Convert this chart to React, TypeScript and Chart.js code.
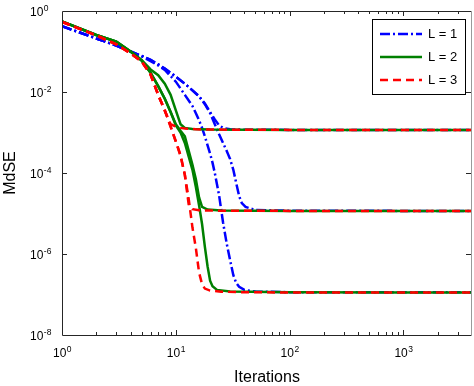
import React, { useEffect, useRef } from "react";
import { Chart, registerables } from "chart.js";

Chart.register(...registerables);

// ---- data (iterations, MdSE) ----
const itBlueTop = [1, 2, 3, 4, 5, 6, 7, 8, 10, 12, 14, 16, 18, 20, 22, 24, 26, 30, 40, 100, 1000, 4000];
const mdseBlueTop = [0.42, 0.21, 0.14, 0.1, 0.078, 0.062, 0.048, 0.038, 0.024, 0.016, 0.011, 0.0078, 0.0052, 0.0032, 0.0021, 0.0015, 0.0013, 0.0012, 0.00117, 0.00116, 0.00115, 0.00115];

const itBlueMid = [1, 2, 3, 4, 5, 6, 7, 8, 10, 12, 14, 16, 18, 20, 22, 24, 26, 28, 30, 32, 34, 36, 38, 41, 50, 100, 1000, 4000];
const mdseBlueMid = [0.42, 0.21, 0.14, 0.1, 0.078, 0.062, 0.048, 0.038, 0.024, 0.016, 0.011, 0.0078, 0.005, 0.003, 0.0016, 0.0009, 0.00055, 0.00035, 0.00022, 0.00012, 0.000055, 0.000027, 0.000018, 0.0000145, 0.0000122, 0.0000117, 0.0000116, 0.0000116];

const itBlueBot = [1, 2, 3, 4, 5, 6, 7, 8, 10, 12, 14, 15, 16, 17, 18, 20, 21, 22, 24, 26, 28, 30, 32, 34, 36, 40, 50, 100, 1000, 4000];
const mdseBlueBot = [0.42, 0.21, 0.14, 0.1, 0.076, 0.058, 0.045, 0.035, 0.018, 0.0085, 0.0045, 0.003, 0.002, 0.0013, 0.0008, 0.0003, 0.00018, 0.0001, 0.000028, 0.000006, 0.0000018, 7e-7, 3e-7, 1.9e-7, 1.55e-7, 1.3e-7, 1.18e-7, 1.14e-7, 1.13e-7, 1.13e-7];

const itGreenTop = [1, 2, 3, 4, 5, 6, 7, 8, 9, 10, 11, 12, 14, 20, 100, 1000, 4000];
const mdseGreenTop = [0.55, 0.255, 0.175, 0.1, 0.062, 0.036, 0.026, 0.016, 0.0085, 0.0035, 0.0016, 0.0013, 0.00122, 0.00118, 0.00116, 0.00115, 0.00115];

const itGreenMid = [1, 2, 3, 4, 5, 6, 7, 8, 9, 10, 11, 12, 13, 14, 15, 16, 17, 19, 25, 100, 1000, 4000];
const mdseGreenMid = [0.55, 0.255, 0.175, 0.1, 0.06, 0.03, 0.014, 0.0068, 0.0032, 0.0016, 0.0011, 0.0008, 0.00035, 0.00016, 0.00007, 0.000025, 0.0000145, 0.0000125, 0.0000119, 0.0000116, 0.0000115, 0.0000115];

const itGreenBot = [1, 2, 3, 4, 5, 6, 7, 8, 9, 10, 11, 12, 13, 14, 15, 16, 17, 18, 19, 20, 21, 23, 30, 100, 1000, 4000];
const mdseGreenBot = [0.55, 0.255, 0.175, 0.1, 0.06, 0.03, 0.014, 0.0068, 0.0032, 0.0015, 0.001, 0.00055, 0.00025, 0.00012, 0.000045, 0.000016, 0.0000055, 0.0000015, 5e-7, 2.2e-7, 1.6e-7, 1.3e-7, 1.18e-7, 1.13e-7, 1.12e-7, 1.12e-7];

const itRedTop = [1, 2, 3, 4, 5, 6, 7, 8, 9, 10, 11, 12, 15, 20, 100, 1000, 4000];
const mdseRedTop = [0.54, 0.25, 0.15, 0.09, 0.057, 0.027, 0.0085, 0.0035, 0.0016, 0.0014, 0.0013, 0.00125, 0.0012, 0.00118, 0.00116, 0.00115, 0.00115];

const itRedMid = [1, 2, 3, 4, 5, 6, 7, 8, 9, 10, 11, 12, 13, 14, 16, 25, 100, 1000, 4000];
const mdseRedMid = [0.54, 0.25, 0.15, 0.09, 0.057, 0.027, 0.0085, 0.0035, 0.0014, 0.0006, 0.00027, 0.00009, 0.000016, 0.0000128, 0.000012, 0.0000117, 0.0000116, 0.0000115, 0.0000115];

const itRedBot = [1, 2, 3, 4, 5, 6, 7, 8, 9, 10, 11, 12, 13, 14, 15, 16, 17, 18, 20, 25, 40, 100, 1000, 4000];
const mdseRedBot = [0.54, 0.25, 0.15, 0.09, 0.057, 0.027, 0.0085, 0.0035, 0.0014, 0.0006, 0.00027, 0.00009, 0.000022, 0.0000045, 0.0000014, 3.5e-7, 1.8e-7, 1.4e-7, 1.25e-7, 1.17e-7, 1.14e-7, 1.12e-7, 1.12e-7, 1.12e-7];

const legendLabels = ["L = 1", "L = 2", "L = 3"];
const xTickExps = [0, 1, 2, 3];
const yTickExps = [0, -2, -4, -6, -8];
const xTitle = "Iterations";
const yTitle = "MdSE";

const FONT = "'Liberation Sans', Arial, Helvetica, sans-serif";

const BLUE = "#0000ff";
const GREEN = "#008000";
const RED = "#ff0000";
const DASHDOT = [10, 3, 2, 3];
const DASHED = [8, 5];

function series(xs: number[], ys: number[], color: string, dash: number[], order: number) {
  return {
    data: xs.map((x, i) => ({ x, y: ys[i] })),
    borderColor: color,
    backgroundColor: color,
    borderWidth: 2.5,
    borderDash: dash,
    pointRadius: 0,
    tension: 0,
    fill: false,
    order,
  };
}

function drawPow(ctx: CanvasRenderingContext2D, exp: number, x: number, baseline: number, align: "left" | "center") {
  const base = "10";
  const sup = exp < 0 ? "-" + String(-exp) : String(exp);
  ctx.font = `12px ${FONT}`;
  const bw = ctx.measureText(base).width;
  ctx.font = `8.5px ${FONT}`;
  const sw = ctx.measureText(sup).width;
  const start = align === "center" ? x - (bw + sw) / 2 : x;
  ctx.textAlign = "left";
  ctx.textBaseline = "alphabetic";
  ctx.fillStyle = "#000";
  ctx.font = `12px ${FONT}`;
  ctx.fillText(base, start, baseline);
  ctx.font = `8.5px ${FONT}`;
  ctx.fillText(sup, start + bw + 0.5, baseline - 5);
}

const framePlugin = {
  id: "matlabFrame",
  afterDatasetsDraw(chart: any) {
    const ctx: CanvasRenderingContext2D = chart.ctx;
    const { left, right, top, bottom } = chart.chartArea;
    const xs = chart.scales.x;
    const ys = chart.scales.y;
    ctx.save();
    ctx.setLineDash([]);
    // frame
    ctx.lineWidth = 1;
    ctx.strokeStyle = "#262626";
    ctx.beginPath();
    ctx.moveTo(left + 0.5, top + 0.5);
    ctx.lineTo(left + 0.5, bottom + 0.5);
    ctx.lineTo(right, bottom + 0.5);
    ctx.moveTo(left + 0.5, top + 0.5);
    ctx.lineTo(right, top + 0.5);
    ctx.stroke();
    ctx.strokeStyle = "#9a9a9a";
    ctx.beginPath();
    ctx.moveTo(right - 0.5, top);
    ctx.lineTo(right - 0.5, bottom + 1);
    ctx.stroke();

    // x ticks
    ctx.strokeStyle = "#262626";
    ctx.beginPath();
    for (let e = 0; e <= 3; e++) {
      for (let m = 1; m <= 9; m++) {
        const v = m * Math.pow(10, e);
        if (v > xs.max) break;
        const px = Math.round(xs.getPixelForValue(v)) + 0.5;
        const len = m === 1 ? 5 : 3;
        if (px <= left + 1 || px >= right - 1) continue;
        ctx.moveTo(px, bottom);
        ctx.lineTo(px, bottom - len);
        ctx.moveTo(px, top);
        ctx.lineTo(px, top + len);
      }
    }
    // y ticks
    for (const e of yTickExps) {
      const py = Math.round(ys.getPixelForValue(Math.pow(10, e))) + 0.5;
      if (py <= top + 1 || py >= bottom - 1) continue;
      ctx.moveTo(left, py);
      ctx.lineTo(left + 5, py);
      ctx.moveTo(right - 1, py);
      ctx.lineTo(right - 6, py);
    }
    ctx.stroke();

    // tick labels
    for (const e of xTickExps) {
      const px = xs.getPixelForValue(Math.pow(10, e));
      drawPow(ctx, e, px, bottom + 22, "center");
    }
    for (const e of yTickExps) {
      const py = ys.getPixelForValue(Math.pow(10, e));
      drawPow(ctx, e, 30, py + 5, "left");
    }

    // axis titles
    ctx.fillStyle = "#000";
    ctx.font = `16px ${FONT}`;
    ctx.textAlign = "center";
    ctx.textBaseline = "alphabetic";
    ctx.fillText(xTitle, (left + right) / 2, 382);
    ctx.save();
    ctx.translate(15, (top + bottom) / 2);
    ctx.rotate(-Math.PI / 2);
    ctx.fillText(yTitle, 0, 0);
    ctx.restore();

    // legend
    const bx = 372, by = 19, bw = 93, bh = 75;
    ctx.fillStyle = "#fff";
    ctx.fillRect(bx, by, bw, bh);
    ctx.strokeStyle = "#000";
    ctx.lineWidth = 1;
    ctx.strokeRect(bx + 0.5, by + 0.5, bw, bh);
    const rows = [34, 57, 80];
    const ds = chart.data.datasets;
    const samples = [ds[6], ds[3], ds[0]]; // blue (L=1), green (L=2), red (L=3)
    legendLabels.forEach((lab, i) => {
      const d = samples[i];
      ctx.strokeStyle = d.borderColor;
      ctx.lineWidth = d.borderWidth;
      ctx.setLineDash(d.borderDash || []);
      ctx.beginPath();
      ctx.moveTo(380, rows[i]);
      ctx.lineTo(422, rows[i]);
      ctx.stroke();
      ctx.setLineDash([]);
      ctx.fillStyle = "#000";
      ctx.font = `13px ${FONT}`;
      ctx.textAlign = "left";
      ctx.textBaseline = "middle";
      ctx.fillText(lab, 428, rows[i] + 0.5);
    });
    ctx.restore();
  },
};

export default function App() {
  const ref = useRef<HTMLCanvasElement>(null);
  useEffect(() => {
    document.body.style.margin = "0";
    const datasets = [
      series(itRedTop, mdseRedTop, RED, DASHED, 1),
      series(itRedMid, mdseRedMid, RED, DASHED, 1),
      series(itRedBot, mdseRedBot, RED, DASHED, 1),
      series(itGreenTop, mdseGreenTop, GREEN, [], 2),
      series(itGreenMid, mdseGreenMid, GREEN, [], 2),
      series(itGreenBot, mdseGreenBot, GREEN, [], 2),
      series(itBlueTop, mdseBlueTop, BLUE, DASHDOT, 3),
      series(itBlueMid, mdseBlueMid, BLUE, DASHDOT, 3),
      series(itBlueBot, mdseBlueBot, BLUE, DASHDOT, 3),
    ];
    const chart = new Chart(ref.current as HTMLCanvasElement, {
      type: "line",
      data: { datasets: datasets as any },
      options: {
        responsive: false,
        animation: false,
        devicePixelRatio: 1,
        parsing: false as any,
        normalized: true,
        layout: { padding: { left: 62, top: 11, right: 2, bottom: 51 } },
        scales: {
          x: { type: "logarithmic", min: 1, max: 4000, display: false },
          y: { type: "logarithmic", min: 1e-8, max: 1, display: false },
        },
        plugins: {
          legend: { display: false },
          tooltip: { enabled: false },
        },
        elements: { point: { radius: 0 }, line: { tension: 0 } },
      },
      plugins: [framePlugin],
    });
    return () => chart.destroy();
  }, []);
  return <canvas ref={ref} width={474} height={386} style={{ display: "block" }} />;
}
